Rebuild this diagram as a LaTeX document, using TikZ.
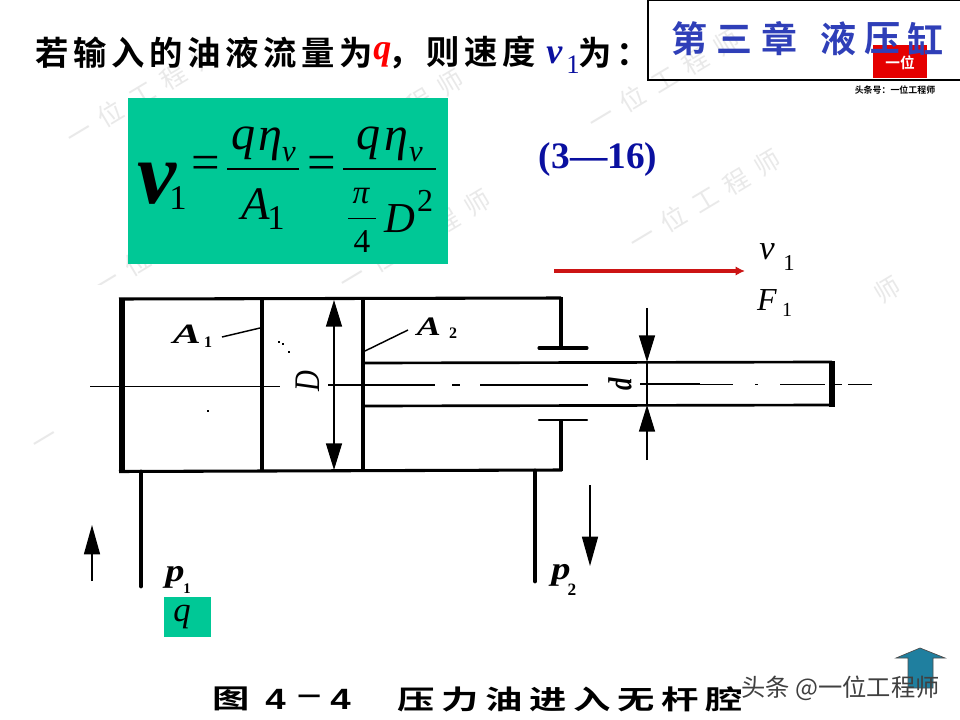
\documentclass[tikz,border=0pt]{standalone}
\usepackage{graphicx}
\usepackage{fontspec}
\setmainfont{Liberation Serif}
\newfontfamily\cjkb[BoldFont={Noto Sans CJK SC Bold}]{Noto Sans CJK SC}
\newfontfamily\cjkhead[LetterSpace=14]{Noto Sans CJK SC Bold}
\newfontfamily\cjkcap[LetterSpace=18]{Noto Sans CJK SC Bold}
\newfontfamily\cjkwm{Noto Sans CJK SC}
\newfontfamily\cjkmark[LetterSpace=44]{Noto Sans CJK SC}
\newfontfamily\sanscap{Liberation Sans}
\usetikzlibrary{arrows.meta}
\definecolor{panelgreen}{HTML}{00C896}
\definecolor{titleblue}{HTML}{2F3FB8}
\definecolor{navy}{HTML}{0A10A0}
\definecolor{wmgray}{HTML}{E9E9E9}
\definecolor{hometeal}{HTML}{1F7F9F}
\definecolor{arrowred}{HTML}{CC1414}
\newcommand{\fs}[1]{\fontsize{#1}{#1}\selectfont}
\tikzset{
  x=0.75pt,y=-0.75pt,
  wall/.style={line width=3.7pt},
  thickline/.style={line width=2.3pt},
  thinline/.style={line width=1.6pt},
  dim/.style={line width=1.1pt},
  dimtip/.style={-{Triangle[length=20pt,width=12pt]}},
  portline/.style={line width=3.6pt,line cap=round},
  centre/.style={line width=0.6pt},
  math/.style={inner sep=0pt,font=\itshape},
  hand/.style={inner sep=0pt,font=\bfseries\itshape},
  wmark/.style={text=wmgray,font=\cjkmark\fs{19},rotate=31,inner sep=0pt},
  titlechar/.style={text=titleblue,font=\cjkb\bfseries\fs{27},inner sep=0pt},
  speck/.style={fill=black,inner sep=0pt,minimum size=1.3pt}
}
\begin{document}
\begin{tikzpicture}
\useasboundingbox (0,0) rectangle (960,720);
\fill[white] (0,0) rectangle (960,720);
% watermarks
\node[wmark] (w1) at (142,95) {一位工程师};
\node[wmark] (w2) at (169,244) {一位工程师};
\node[wmark] (w3) at (415,240) {一位工程师};
\node[wmark] (w4) at (388,120) {一位工程师};
\node[wmark] (w5) at (664,80) {一位工程师};
\node[wmark] (w6) at (705,200) {一位工程师};
\node[wmark] (w7) at (107,401) {一位工程师};
\node[wmark] (w8) at (825,327) {一位工程师};
\fill[white] (62,285) rectangle (872,640);
% header
\node[anchor=west,inner sep=0pt] (headA) at (35,53) {\cjkhead\fs{25}若输入的油液流量为};
\node[anchor=west,inner sep=0pt,text=red,font=\bfseries\itshape\fs{27}] (headq) at (373,55) {q};
\node[anchor=west,inner sep=0pt] (headB) at (388,53) {\cjkhead\fs{25}，则速度};
\node[anchor=west,inner sep=0pt,text=navy,font=\bfseries\itshape\fs{27}] (headv) at (546,55) {v};
\node[anchor=west,inner sep=0pt,text=navy,font=\fs{20}] (headv1) at (566,65) {1};
\node[anchor=west,inner sep=0pt] (headC) at (578,53) {\cjkhead\fs{25}为：};
% title box
\draw[line width=0.9pt] (648,0.5) -- (648,80) -- (960,80);
\draw[line width=0.9pt] (648,0.5) -- (960,0.5);
\fill[red!90!black] (873,45) rectangle (927,78);
\node[text=white,inner sep=0pt,font=\cjkb\bfseries\fs{11}] (badge) at (900,63) {一位};
\node[titlechar] (t1) at (689,39) {第};
\node[titlechar] (t2) at (734,39) {三};
\node[titlechar] (t3) at (779,39) {章};
\node[titlechar] (t4) at (838,39) {液};
\node[titlechar] (t5) at (882,39) {压};
\node[titlechar] (t6) at (925,39) {缸};
\node[inner sep=0pt,font=\cjkb\bfseries\fs{6.7}] (tou) at (895,90) {头条号：一位工程师};
% formula panel
\fill[panelgreen] (128,98) rectangle (448,264);
\node[math,font=\bfseries\itshape\fs{66}] (fv) at (157,184) {v};
\node[inner sep=0pt,font=\fs{26}] (f1) at (178,198) {1};
\node[inner sep=0pt,font=\fs{38}] (feq1) at (206,168) {=};
\node[math,font=\itshape\fs{36}] (fq1) at (243,143) {q};
\node[math,font=\itshape\fs{36}] (fe1) at (270,144) {η};
\node[math,font=\itshape\fs{23}] (fs1) at (289,155) {v};
\draw[line width=1.7pt] (227,169) -- (299,169);
\node[math,font=\itshape\fs{35}] (fA) at (256,204) {A};
\node[inner sep=0pt,font=\fs{26}] (fA1) at (276,218) {1};
\node[inner sep=0pt,font=\fs{38}] (feq2) at (322,168) {=};
\node[math,font=\itshape\fs{36}] (fq2) at (368,143) {q};
\node[math,font=\itshape\fs{36}] (fe2) at (396,144) {η};
\node[math,font=\itshape\fs{23}] (fs2) at (416,155) {v};
\draw[line width=1.7pt] (343,169) -- (436,169);
\node[math,font=\itshape\fs{25}] (fpi) at (361,196) {π};
\draw[line width=0.7pt] (348,218) -- (376,218);
\node[inner sep=0pt,font=\fs{25}] (f4) at (362,242) {4};
\node[math,font=\itshape\fs{32}] (fD) at (400,219) {D};
\node[inner sep=0pt,font=\fs{24}] (f2) at (425,201) {2};
\node[inner sep=0pt,text=navy,font=\bfseries\fs{28}] (eqno) at (598,160) {(3—16)};
% motion label
\coordinate (rs) at (554,271);
\coordinate (re) at (745,271);
\draw[-{Latex[length=7pt,width=7pt]},line width=2.3pt,arrowred] (rs) -- (re);
\node[math,font=\itshape\fs{26}] (lv) at (767,252) {v};
\node[inner sep=0pt,font=\fs{17}] (lv1) at (789,263) {1};
\node[math,font=\itshape\fs{24}] (lF) at (767,300) {F};
\node[inner sep=0pt,font=\fs{15}] (lF1) at (787,310) {1};
% centre line
\draw[centre] (90,386) -- (280,386);
\draw[line width=1.1pt] (328,385) -- (435,385) (452,385) -- (460,385) (480,385) -- (588,385)
  (640,384) -- (700,384);
\draw[centre] (700,384) -- (733,384) (755,384) -- (758,384) (780,384) -- (825,384) (832,384) -- (842,384) (848,384) -- (872,384);
% cylinder body
\draw[wall,line width=4.4pt] (122,298) -- (122,472.5);
\draw[thickline] (119,299) -- (561,298);
\draw[thickline] (119,471.5) -- (562,470);
\draw[wall] (262,299) -- (262,471);
\draw[wall] (363,299) -- (363,471);
\draw[wall,line width=3pt] (561,297) -- (561,348);
\draw[wall,line width=3pt] (561,421) -- (561,471);
\draw[thickline,line cap=round] (539,348) -- (587,348);
\draw[thinline,line cap=round] (539,420) -- (587,420);
% rod
\draw[thickline,line width=2pt] (363,363) -- (832,362);
\draw[thickline,line width=2pt] (363,406) -- (832,405);
\draw[wall,line width=4pt] (832,361) -- (832,406.5);
% D dimension
\coordinate (da) at (334,386);
\coordinate (dt) at (334,300);
\coordinate (db) at (334,470);
\draw[dim,dimtip] (da) -- (dt);
\draw[dim,dimtip] (da) -- (db);
\node[hand,font=\itshape\fs{27},rotate=90] (Dl) at (308,381) {\scalebox{0.8}[1]{D}};
\node[speck] (s1) at (208,411) {};
\node[speck] (s2) at (279,342) {};
\node[speck] (s3) at (283,344) {};
\node[speck] (s4) at (289,352) {};
% d dimension
\coordinate (d1) at (647,308);
\coordinate (d2) at (647,362);
\coordinate (d3) at (647,460);
\coordinate (d4) at (647,405);
\draw[dim,dimtip] (d1) -- (d2);
\draw[dim,dimtip] (d3) -- (d4);
\draw[dim] (d2) -- (d4);
\node[hand,font=\bfseries\itshape\fs{25},rotate=90] (dl) at (620,384) {\scalebox{0.75}[1]{d}};
% A labels
\node[hand,font=\bfseries\itshape\fs{21}] (A1) at (187,334) {\scalebox{1.5}[1]{A}};
\node[hand,font=\bfseries\fs{12}] (A1s) at (208,342) {1};
\draw[line width=1.1pt] (222,337) -- (260,328);
\node[hand,font=\bfseries\itshape\fs{20}] (A2) at (429,327) {\scalebox{1.35}[1]{A}};
\node[hand,font=\bfseries\fs{12}] (A2s) at (453,333) {2};
\draw[line width=1.1pt] (365,351) -- (408,330);
% ports
\draw[portline] (141,472) -- (141,586);
\draw[portline] (535,471) -- (535,581);
\coordinate (pa1) at (92,581);
\coordinate (pa2) at (92,525);
\coordinate (pb1) at (590,485);
\coordinate (pb2) at (590,566);
\draw[dim,-{Triangle[length=22pt,width=12pt]}] (pa1) -- (pa2);
\draw[dim,-{Triangle[length=22pt,width=12pt]}] (pb1) -- (pb2);
\node[hand,font=\bfseries\itshape\fs{24}] (P1) at (175,577) {\scalebox{1.2}[1]{p}};
\node[hand,font=\bfseries\fs{11}] (P1s) at (187,589) {1};
\node[hand,font=\bfseries\itshape\fs{24}] (P2) at (561,575) {\scalebox{1.2}[1]{p}};
\node[hand,font=\bfseries\fs{13}] (P2s) at (572,590) {2};
\node[fill=panelgreen,minimum width=35.25pt,minimum height=30pt,inner sep=0pt] (qb) at (187.5,617) {};
\node[math,font=\itshape\fs{26}] (ql) at (182,617) {q};
% caption
\node[anchor=west,inner sep=0pt] (c1) at (212,699) {\scalebox{1.4}[1]{\cjkb\bfseries\fs{20}图}};
\node[anchor=west,inner sep=0pt] (c2) at (265,699) {\scalebox{1.25}[1]{\sanscap\bfseries\fs{22}4}};
\node[anchor=west,inner sep=0pt] (c3) at (297,699) {\scalebox{1.6}[1]{\sanscap\bfseries\fs{20}–}};
\node[anchor=west,inner sep=0pt] (c4) at (330,699) {\scalebox{1.25}[1]{\sanscap\bfseries\fs{22}4}};
\node[anchor=west,inner sep=0pt] (c5) at (397,699) {\scalebox{1.4}[1]{\cjkcap\fs{20}压力油进入无杆腔}};
% home arrow
\draw[fill=hometeal,draw=black!70,line width=0.5pt] (920,648) -- (945,658) -- (933,658) -- (933,688) -- (908,688) -- (908,658) -- (896,658) -- cycle;
% platform mark
\node[anchor=west,inner sep=0pt,text=black!75,font=\cjkwm\fs{18.2}] (wm) at (741,688) {头条 @一位工程师};
\end{tikzpicture}
\end{document}
